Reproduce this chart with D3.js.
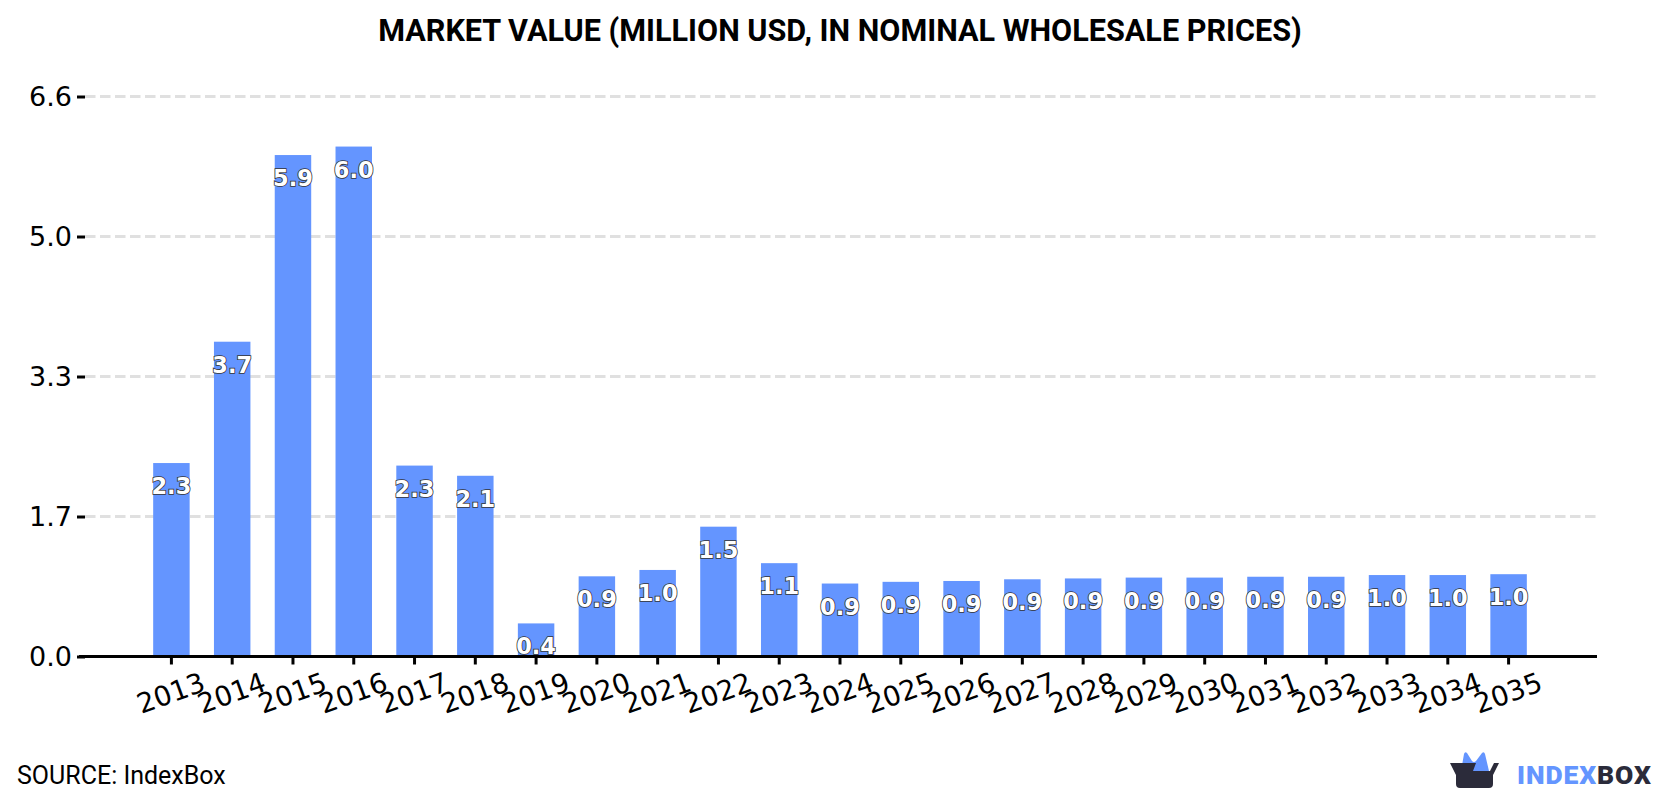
<!DOCTYPE html>
<html>
<head>
<meta charset="utf-8">
<script src="https://cdnjs.cloudflare.com/ajax/libs/d3/7.8.5/d3.min.js"></script>
<style>
html,body{margin:0;padding:0;background:#fff;}
svg{display:block;}
</style>
</head>
<body>
<svg id="chart" width="1680" height="800"></svg>
<script>
// Market value by year, million USD
const years = [2013,2014,2015,2016,2017,2018,2019,2020,2021,2022,2023,2024,2025,2026,2027,2028,2029,2030,2031,2032,2033,2034,2035];
const values = [2.28,3.71,5.91,6.01,2.25,2.13,0.39,0.945,1.02,1.53,1.10,0.86,0.88,0.89,0.91,0.92,0.93,0.93,0.94,0.94,0.96,0.96,0.97];
const yTicks = [0,1.65,3.3,4.95,6.6];
const yTickLabels = ["0.0","1.7","3.3","5.0","6.6"];
const titleText = "MARKET VALUE (MILLION USD, IN NOMINAL WHOLESALE PRICES)";
const sourceText = "SOURCE: IndexBox";

const BLUE = "#6495ff", DARK = "#2b2b3a";
const svg = d3.select("#chart");
const plotLeft = 79, plotRight = 1597, plotTop = 96.5, plotBottom = 656.5;

const x = d3.scaleBand().domain(years).range([plotLeft + 2, plotRight + 2]).paddingInner(0.4).paddingOuter(1.1875);
const y = d3.scaleLinear().domain([0, 6.6]).range([plotBottom, plotTop]);

svg.append("text").attr("x", 840).attr("y", 41).attr("text-anchor", "middle")
  .attr("font-family", "Roboto").attr("font-weight", 700).attr("font-size", 30.6).attr("fill", "#000")
  .text(titleText);

// Dashed horizontal grid
svg.append("g").selectAll("line").data(yTicks.slice(1)).join("line")
  .attr("x1", plotLeft + 6).attr("x2", plotRight)
  .attr("y1", d => y(d)).attr("y2", d => y(d))
  .attr("stroke", "#e0e0e0").attr("stroke-width", 3).attr("stroke-dasharray", "10.5 4.5");

// Bars
svg.append("g").selectAll("rect").data(values).join("rect")
  .attr("x", (d, i) => x(years[i])).attr("width", x.bandwidth())
  .attr("y", d => y(d)).attr("height", d => y(0) - y(d))
  .attr("fill", BLUE);

// Axes
const yAxis = d3.axisLeft(y).tickValues(yTicks).tickSize(8).tickPadding(5)
  .tickFormat((d, i) => yTickLabels[i]);
const gy = svg.append("g").attr("transform", `translate(${plotLeft + 6},0)`).call(yAxis);
gy.select(".domain").remove();
gy.selectAll("line").attr("stroke", "#000").attr("stroke-width", 3);
gy.selectAll("text").attr("font-family", "DejaVu Sans").attr("font-size", 27).attr("fill", "#000");

const xAxis = d3.axisBottom(x).tickSize(8).tickSizeOuter(0).tickFormat(d3.format("d"));
const gx = svg.append("g").attr("transform", `translate(0,${plotBottom})`).call(xAxis);
gx.select(".domain").attr("stroke", "#000").attr("stroke-width", 3).attr("d", `M${plotLeft},0H${plotRight}`);
gx.selectAll("line").attr("stroke", "#000").attr("stroke-width", 3);
gx.selectAll("text").attr("font-family", "DejaVu Sans").attr("font-size", 27.5).attr("fill", "#000")
  .attr("text-anchor", "middle").attr("dy", null)
  .attr("transform", "translate(0,38) rotate(-20)").attr("y", 0).attr("dominant-baseline", "middle");

// Value labels inside the bars
svg.append("g").selectAll("text").data(values).join("text")
  .attr("x", (d, i) => x(years[i]) + x.bandwidth() / 2)
  .attr("y", d => y(d) + 31)
  .attr("text-anchor", "middle")
  .attr("font-family", "DejaVu Sans").attr("font-weight", 700).attr("font-size", 22.5)
  .attr("fill", "#fff").attr("stroke", "#333").attr("stroke-width", 1.6).attr("paint-order", "stroke")
  .text(d => d.toFixed(1));

svg.append("text").attr("x", 17).attr("y", 784)
  .attr("font-family", "Roboto").attr("font-size", 25).attr("fill", "#000").text(sourceText);

// Brand mark
const logo = svg.append("g");
logo.append("path").attr("fill", BLUE)
  .attr("d", "M1461 771 L1464 754 Q1465 751 1467 753 L1472 761 Q1474 763 1476 761 L1482 753 Q1484 751 1485 754 L1489 771 Z");
logo.append("path").attr("fill", DARK)
  .attr("d", "M1450 763 L1476 763 L1473 771 L1490 771 L1494 763 L1499 763 L1493 775 L1493 784 Q1493 788 1489 788 L1460 788 Q1456 788 1456 784 L1456 775 Z");
const brand = svg.append("text").attr("x", 1517).attr("y", 784)
  .attr("font-family", "Roboto").attr("font-weight", 900).attr("font-size", 26.5).attr("letter-spacing", 0.9);
brand.append("tspan").attr("fill", BLUE).text("INDEX");
brand.append("tspan").attr("fill", DARK).text("BOX");
</script>
</body>
</html>
